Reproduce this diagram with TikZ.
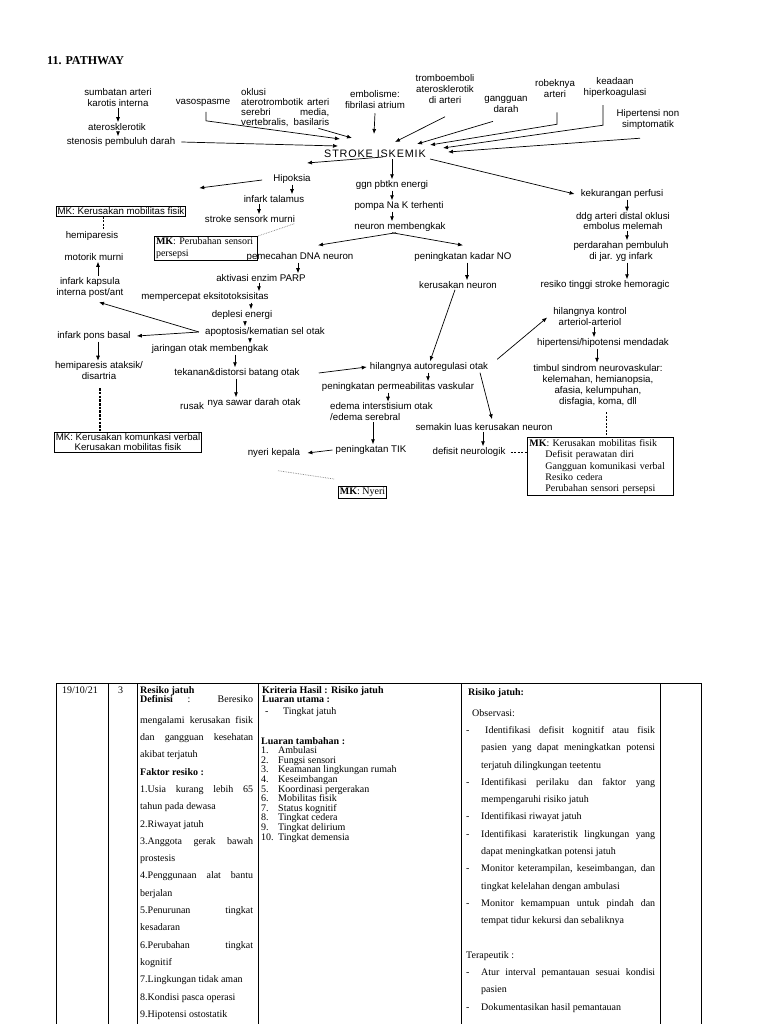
\documentclass[tikz,border=0pt]{standalone}
\usepackage{fontspec}
\setmainfont{Liberation Sans}
\newfontfamily\tnr{Liberation Serif}
\newfontfamily\sansls[LetterSpace=8]{Liberation Sans}
\usetikzlibrary{arrows.meta}

% justified lines of the table
\newcommand{\jline}[2]{\makebox[#1pt][s]{#2}}
\newcommand{\dashj}[1]{\makebox[15pt][l]{-}\makebox[174pt][s]{#1}}
\newcommand{\dashr}[1]{\makebox[15pt][l]{-}#1}
\newcommand{\contj}[1]{\hspace*{15pt}\makebox[174pt][s]{#1}}
\newcommand{\contr}[1]{\hspace*{15pt}#1}

\begin{document}
\begin{tikzpicture}[x=1pt,y=-1pt,
  lbl/.style={inner sep=1pt, align=center, font={\fontsize{9.7}{11}\selectfont}},
  arr/.style={-{Latex[length=5pt,width=4pt]}, line width=0.7pt},
  mkbox/.style={draw, line width=0.8pt, inner sep=1.5pt},
  dotln/.style={gray, line width=0.7pt, densely dotted},
  dashln/.style={line width=0.7pt, dash pattern=on 2pt off 1.5pt},
  thickdash/.style={line width=2.6pt, dash pattern=on 2.5pt off 1.2pt},
  tline/.style={line width=1pt},
  tcell/.style={anchor=north west, inner sep=0pt, align=left, font={\tnr\fontsize{10}{17.3}\selectfont}},
  tlist/.style={anchor=north west, inner sep=0pt, align=left, font={\tnr\fontsize{10}{9.6}\selectfont}}]
\useasboundingbox (0,0) rectangle (768,1024);

\node[font={\tnr\bfseries\fontsize{12}{14}\selectfont}, anchor=west, inner sep=0pt] (title) at (47,61) {11. PATHWAY};

% causes
\node[lbl] (sumb) at (118,98) {sumbatan arteri\\karotis interna};
\node[lbl] (ater) at (117,127) {aterosklerotik};
\node[lbl] (sten) at (121,142) {stenosis pembuluh darah};
\node[lbl] (vaso) at (203,103) {vasospasme};
\node[lbl, align=left, anchor=west, font={\fontsize{9.7}{10}\selectfont}] (oklu) at (240,108) {oklusi\\\jline{88}{aterotrombotik arteri}\\\jline{88}{serebri media,}\\\jline{88}{vertebralis, basilaris}};
\node[lbl] (embo) at (375,100) {embolisme:\\fibrilasi atrium};
\node[lbl] (trom) at (445,89) {tromboemboli\\aterosklerotik\\di arteri};
\node[lbl] (gang) at (506,104) {gangguan\\darah};
\node[lbl] (robe) at (555,89) {robeknya\\arteri};
\node[lbl] (kead) at (615,87) {keadaan\\hiperkoagulasi};
\node[lbl] (hipn) at (648,119) {Hipertensi non\\simptomatik};
\node[lbl, font={\sansls\fontsize{10.8}{11}\selectfont}] (stroke) at (375,154) {STROKE ISKEMIK};

\draw[arr] (sumb.south) -- (sumb.south |- ater.north);
\draw[arr] (sumb.south |- ater.south) -- (sumb.south |- sten.north);
\draw[arr] ([xshift=5pt]sten.east) -- ([shift={(-37,-8)}]stroke.center);
\draw[arr] ([shift={(3,4)}]vaso.south) -- ++(0,9) -- ([shift={(-35,-15)}]stroke.center);
\draw[arr] ([xshift=-12pt]oklu.south east) -- ([shift={(-23,-16)}]stroke.center);
\draw[arr] ([yshift=-3pt]embo.south) -- ([shift={(-1,-20)}]stroke.center);
\draw[arr] ([yshift=-12pt]trom.south) -- ([shift={(20,-12)}]stroke.center);
\draw[arr] ([shift={(-13,8)}]gang.south) -- ([shift={(42,-10)}]stroke.center);
\draw[arr] ([shift={(2,13)}]robe.south) -- ++(0,12) -- ([shift={(55,-9)}]stroke.center);
\draw[arr] ([shift={(-12,7)}]kead.south) -- ++(0,20) -- ([shift={(68,-6)}]stroke.center);
\draw[arr] ([shift={(-8,8)}]hipn.south) -- ([shift={(73,-2)}]stroke.center);

% middle branch
\node[lbl] (hipo) at (292,179) {Hipoksia};
\node[lbl] (ggn) at (392,185) {ggn pbtkn energi};
\node[lbl] (pompa) at (399,206) {pompa Na K terhenti};
\node[lbl] (neuron) at (400,227) {neuron membengkak};
\node[lbl] (dna) at (300,257) {pemecahan DNA neuron};
\node[lbl] (no) at (463,257) {peningkatan kadar NO};
\node[lbl] (kneu) at (458,285) {kerusakan neuron};
\node[lbl] (parp) at (261,278) {aktivasi enzim PARP};
\node[lbl] (eksi) at (205,297) {mempercepat eksitotoksisitas};
\node[lbl] (depl) at (242,315) {deplesi energi};
\node[lbl] (apop) at (265,332) {apoptosis/kematian sel otak};
\node[lbl] (jari) at (210,349) {jaringan otak membengkak};
\node[lbl] (teka) at (237,373) {tekanan\&distorsi batang otak};
\node[lbl] (rusak) at (192,406) {rusak};
\node[lbl] (sawar) at (254,403) {nya sawar darah otak};

\draw[arr] ([shift={(8,3)}]stroke.center) -- ([shift={(15,-16)}]hipo.center);
\draw[arr] (ggn.north |- stroke.south) -- (ggn.north);
\draw[arr] (ggn.south) -- (ggn.south |- pompa.north);
\draw[arr] (ggn.south |- pompa.south) -- (ggn.south |- neuron.north);
\draw[arr] ([xshift=-4pt]neuron.south) -- ([shift={(18,-6)}]dna.north);
\draw[arr] ([xshift=-8pt]neuron.south) -- ([yshift=6pt]no.north);
\draw[arr] ([xshift=4pt]no.south) -- ([xshift=9pt]kneu.north);
\draw[arr] ([xshift=-2pt]dna.south) -- ([xshift=37pt]parp.north);
\draw[arr] ([xshift=-2pt]parp.south) -- ([xshift=54pt]eksi.north);
\draw[arr] ([xshift=46pt]eksi.south) -- ([xshift=9pt]depl.north);
\draw[arr] ([xshift=3pt]depl.south) -- ([xshift=-20pt]apop.north);
\draw[arr] ([xshift=-15pt]apop.south) -- ([xshift=40pt]jari.north);
\draw[arr] ([xshift=25pt]jari.south) -- ([xshift=-2pt]teka.north);
\draw[arr] ([xshift=-1pt]teka.south) -- ([xshift=-18pt]sawar.north);

% left branch
\node[lbl, mkbox] (mkmob) at (121,211.5) {MK: Kerusakan mobilitas fisik};
\node[lbl] (tala) at (274,199) {infark talamus};
\node[lbl] (sens) at (250,219) {stroke sensork murni};
\node[mkbox, align=left, text width=100pt, font={\tnr\fontsize{10}{12}\selectfont}] (mksens) at (206,248.5) {\textbf{MK}: Perubahan sensori\\persepsi};
\node[lbl] (hemi) at (92,236) {hemiparesis};
\node[lbl] (moto) at (94,257) {motorik murni};
\node[lbl] (kaps) at (90,287) {infark kapsula\\interna post/ant};
\node[lbl] (pons) at (94,336) {infark pons basal};
\node[lbl] (atak) at (99,371) {hemiparesis ataksik/\\disartria};
\node[lbl, mkbox, font={\fontsize{9.7}{10}\selectfont}] (mkkom) at (128,442) {MK: Kerusakan komunkasi verbal\\Kerusakan mobilitas fisik};

\draw[arr] (hipo.south) -- (hipo.south |- tala.north);
\draw[arr] ([xshift=-15pt]tala.south) -- ([xshift=9pt]sens.north);
\draw[arr] ([shift={(-10,1)}]hipo.west) -- ([shift={(13,-18)}]mkmob.north east);
\draw[dotln] ([xshift=-2pt]sens.south east) -- (mksens.north east);
\draw[dashln] ([xshift=-18pt]mkmob.south) -- ([xshift=11pt]hemi.north);
\draw[arr] ([xshift=8pt]kaps.north) -- ([xshift=4pt]moto.south);
\draw[arr] ([xshift=-5pt]apop.west) -- ([shift={(9,4)}]kaps.south);
\draw[arr] ([xshift=-5pt]apop.west) -- ([xshift=5pt]pons.east);
\draw[arr] ([xshift=4pt]pons.south) -- ([xshift=-1pt]atak.north);
\draw[thickdash] ([shift={(1,7)}]atak.south) -- ([xshift=-28pt]mkkom.north);

% right branch
\node[lbl] (auto) at (429,367) {hilangnya autoregulasi otak};
\node[lbl] (kont) at (590,316.5) {hilangnya kontrol\\arteriol-arteriol};
\node[lbl] (hipm) at (603,343) {hipertensi/hipotensi mendadak};
\node[lbl] (timb) at (598,385) {timbul sindrom neurovaskular:\\kelemahan, hemianopsia,\\afasia, kelumpuhan,\\disfagia, koma, dll};
\node[lbl] (perm) at (398,387) {peningkatan permeabilitas vaskular};
\node[lbl, align=left, anchor=west] (edema) at (329,412) {edema interstisium otak\\/edema serebral};
\node[lbl] (tik) at (371,450) {peningkatan TIK};
\node[lbl] (nyeri) at (274,453) {nyeri kepala};
\node[mkbox, font={\tnr\fontsize{10}{12}\selectfont}] (mkny) at (362.5,492.5) {\textbf{MK}: Nyeri};
\node[lbl] (semak) at (484,427) {semakin luas kerusakan neuron};
\node[lbl] (defi) at (469,452) {defisit neurologik};
\node[mkbox, align=left, text width=142pt, anchor=north west, inner sep=2pt, font={\tnr\fontsize{10}{11.3}\selectfont}] (mkbig) at (527,437) {\textbf{MK}: Kerusakan mobilitas fisik\\\hspace*{16pt}Defisit perawatan diri\\\hspace*{16pt}Gangguan komunikasi verbal\\\hspace*{16pt}Resiko cedera\\\hspace*{16pt}Perubahan sensori persepsi};

\draw[arr] ([xshift=18pt]teka.east) -- ([xshift=-2pt]auto.west);
\draw[arr] ([xshift=-3pt]kneu.south) -- ([xshift=1pt]auto.north);
\draw[arr] ([shift={(8,-2)}]auto.north east) -- ([shift={(-5,1)}]kont.west);
\draw[arr] ([xshift=4pt]kont.south) -- ([xshift=-9pt]hipm.north);
\draw[arr] ([xshift=-6pt]hipm.south) -- ([xshift=-1pt]timb.north);
\draw[arr] ([xshift=-1pt]auto.south) -- ([xshift=30pt]perm.north);
\draw[arr] ([xshift=51pt]auto.south) -- ([shift={(8,-3)}]semak.north);
\draw[arr] ([xshift=-10pt]perm.south) -- ([xshift=-10pt]perm.south |- edema.north);
\draw[arr] ([xshift=2pt]tik.north |- edema.south) -- ([xshift=2pt]tik.north);
\draw[arr] ([xshift=-2pt]tik.west) -- ([xshift=6pt]nyeri.east);
\draw[dotln] ([shift={(4,12)}]nyeri.south) -- ([shift={(-3,-7)}]mkny.north west);
\draw[arr] ([xshift=-1pt]semak.south) -- ([xshift=14pt]defi.north);
\draw[dashln] ([xshift=4pt]defi.east) -- (defi.east -| mkbig.west);
\draw[dashln] ([shift={(8,5)}]timb.south) -- ([xshift=8pt]timb.south |- mkbig.north);

% perfusion branch
\node[lbl] (perf) at (622,194) {kekurangan perfusi};
\node[lbl, font={\fontsize{9.7}{10}\selectfont}] (ddg) at (623,221.5) {ddg arteri distal oklusi\\embolus melemah};
\node[lbl] (perd) at (621,251.5) {perdarahan pembuluh\\di jar. yg infark};
\node[lbl] (resi) at (605,285) {resiko tinggi stroke hemoragic};

\draw[arr] ([shift={(55,5)}]stroke.center) -- ([xshift=-5pt]perf.west);
\draw[arr] ([xshift=5pt]perf.south) -- ([xshift=4pt]ddg.north);
\draw[arr] ([xshift=4pt]ddg.south) -- ([xshift=6pt]perd.north);
\draw[arr] ([xshift=6pt]perd.south) -- ([xshift=22pt]resi.north);

% table
\draw[tline] (56,683) -- (701,683);
\foreach \cx in {56,108,137,258,461,660,701}
  \draw[tline] (\cx,683) -- (\cx,1024);

\node[tcell, anchor=base west] (date) at (62,693) {19/10/21};
\node[tcell, anchor=base west] (nr) at (118,693) {3};
\node[tcell, anchor=base west] (c3h) at (140,693) {\textbf{Resiko jatuh}};
\node[tcell, anchor=base west] (c3a) at (140,702) {\jline{113}{\textbf{Definisi} : Beresiko}};
\node[tcell] (c3b) at (140,716) {\jline{113}{mengalami kerusakan fisik}\\\jline{113}{dan gangguan kesehatan}\\akibat terjatuh\\\textbf{Faktor resiko :}\\\jline{113}{1.Usia kurang lebih 65}\\tahun pada dewasa\\2.Riwayat jatuh\\\jline{113}{3.Anggota gerak bawah}\\prostesis\\\jline{113}{4.Penggunaan alat bantu}\\berjalan\\\jline{113}{5.Penurunan tingkat}\\kesadaran\\\jline{113}{6.Perubahan tingkat}\\kognitif\\7.Lingkungan tidak aman\\8.Kondisi pasca operasi\\9.Hipotensi ostostatik};

\node[tlist] (c4a) at (262,686) {\textbf{Kriteria Hasil : Risiko jatuh}\\\textbf{Luaran utama :}\\[2pt]\makebox[21pt][l]{\hspace*{3pt}-}Tingkat jatuh};
\node[tlist] (c4b) at (261,737) {\textbf{Luaran tambahan :}\\\makebox[17pt][l]{1.}Ambulasi\\\makebox[17pt][l]{2.}Fungsi sensori\\\makebox[17pt][l]{3.}Keamanan lingkungan rumah\\\makebox[17pt][l]{4.}Keseimbangan\\\makebox[17pt][l]{5.}Koordinasi pergerakan\\\makebox[17pt][l]{6.}Mobilitas fisik\\\makebox[17pt][l]{7.}Status kognitif\\\makebox[17pt][l]{8.}Tingkat cedera\\\makebox[17pt][l]{9.}Tingkat delirium\\\makebox[17pt][l]{10.}Tingkat demensia};

\node[tcell, anchor=base west] (c5h) at (468,695) {\textbf{Risiko jatuh:}};
\node[tcell] (c5a) at (466,709) {\hspace*{6pt}Observasi:\\\dashj{\hspace*{4pt}Identifikasi defisit kognitif atau fisik}\\\contj{pasien yang dapat meningkatkan potensi}\\\contr{terjatuh dilingkungan teetentu}\\\dashj{Identifikasi perilaku dan faktor yang}\\\contr{mempengaruhi risiko jatuh}\\\dashr{Identifikasi riwayat jatuh}\\\dashj{Identifikasi karateristik lingkungan yang}\\\contr{dapat meningkatkan potensi jatuh}\\\dashj{Monitor keterampilan, keseimbangan, dan}\\\contr{tingkat kelelahan dengan ambulasi}\\\dashj{Monitor kemampuan untuk pindah dan}\\\contr{tempat tidur kekursi dan sebaliknya}\\[17.3pt]Terapeutik :\\\dashj{Atur interval pemantauan sesuai kondisi}\\\contr{pasien}\\\dashr{Dokumentasikan hasil pemantauan}};

\end{tikzpicture}
\end{document}
